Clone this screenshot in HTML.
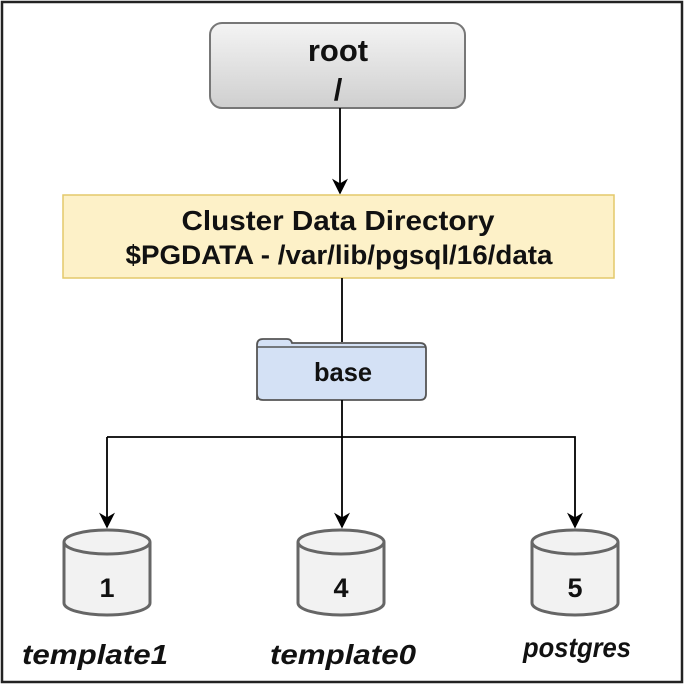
<!DOCTYPE html>
<html><head><meta charset="utf-8"><style>
body{margin:0;width:685px;height:685px;background:#fff;overflow:hidden}
text{font-family:"Liberation Sans",Arial,sans-serif;font-weight:bold;fill:#111}
</style></head><body>
<svg width="685" height="685" xmlns="http://www.w3.org/2000/svg">
<defs>
<linearGradient id="g" x1="0" y1="0" x2="0" y2="1"><stop offset="0" stop-color="#f4f4f4"/><stop offset="1" stop-color="#cfcfcf"/></linearGradient>
<marker id="a" viewBox="0 0 10 10" refX="9" refY="5" markerWidth="16" markerHeight="16" orient="auto" markerUnits="userSpaceOnUse"><path d="M0,0L10,5L0,10L3,5z" fill="#000"/></marker>
</defs>
<rect x="2" y="2" width="680" height="680" fill="none" stroke="#222" stroke-width="2.5"/>
<rect x="210" y="23" width="255" height="85" rx="12" fill="url(#g)" stroke="#777" stroke-width="2"/>
<text x="338" y="61" font-size="31" text-anchor="middle">root</text>
<text x="338" y="100" font-size="31" text-anchor="middle">/</text>
<line x1="340" y1="108" x2="340" y2="193" stroke="#000" stroke-width="1.8" marker-end="url(#a)"/>
<rect x="63" y="195" width="551" height="83" fill="#fdf1c8" stroke="#e3c96a" stroke-width="1.5"/>
<text x="338" y="230" font-size="28" text-anchor="middle" textLength="313" lengthAdjust="spacingAndGlyphs">Cluster Data Directory</text>
<text x="339" y="264" font-size="27" text-anchor="middle" textLength="427" lengthAdjust="spacingAndGlyphs">$PGDATA - /var/lib/pgsql/16/data</text>
<line x1="342" y1="278" x2="342" y2="342" stroke="#000" stroke-width="1.8"/>
<path d="M257,400 V345 Q257,339 263,339 H287 Q291,339 292,343 H420 Q426,343 426,349 V394 Q426,400 420,400 H263 Q257,400 257,394Z" fill="#d4e1f5" stroke="#555" stroke-width="1.8"/>
<line x1="257" y1="347" x2="426" y2="347" stroke="#555" stroke-width="1.5"/>
<text x="343" y="381" font-size="26" text-anchor="middle" textLength="58" lengthAdjust="spacingAndGlyphs">base</text>
<line x1="342" y1="400" x2="342" y2="527" stroke="#000" stroke-width="1.8" marker-end="url(#a)"/>
<polyline points="107,437 575,437 575,527" fill="none" stroke="#000" stroke-width="1.8" marker-end="url(#a)"/>
<line x1="107" y1="437" x2="107" y2="527" stroke="#000" stroke-width="1.8" marker-end="url(#a)"/>
<g stroke="#666" stroke-width="3" fill="#f2f2f2">
<path d="M64,542 V603 A43,12 0 0 0 150,603 V542"/><ellipse cx="107" cy="542" rx="43" ry="12"/>
<path d="M298,542 V603 A43,12 0 0 0 384,603 V542"/><ellipse cx="341" cy="542" rx="43" ry="12"/>
<path d="M532,542 V603 A43,12 0 0 0 618,603 V542"/><ellipse cx="575" cy="542" rx="43" ry="12"/>
</g>
<text x="107" y="597" font-size="27" text-anchor="middle" fill="#333">1</text>
<text x="341" y="597" font-size="27" text-anchor="middle" fill="#333">4</text>
<text x="575" y="597" font-size="27" text-anchor="middle" fill="#333">5</text>
<text x="95" y="664" font-size="28" text-anchor="middle" font-style="italic" textLength="146" lengthAdjust="spacingAndGlyphs">template1</text>
<text x="343" y="664" font-size="28" text-anchor="middle" font-style="italic" textLength="146" lengthAdjust="spacingAndGlyphs">template0</text>
<text x="577" y="657" font-size="28" text-anchor="middle" font-style="italic" textLength="108" lengthAdjust="spacingAndGlyphs">postgres</text>
</svg>
</body></html>
